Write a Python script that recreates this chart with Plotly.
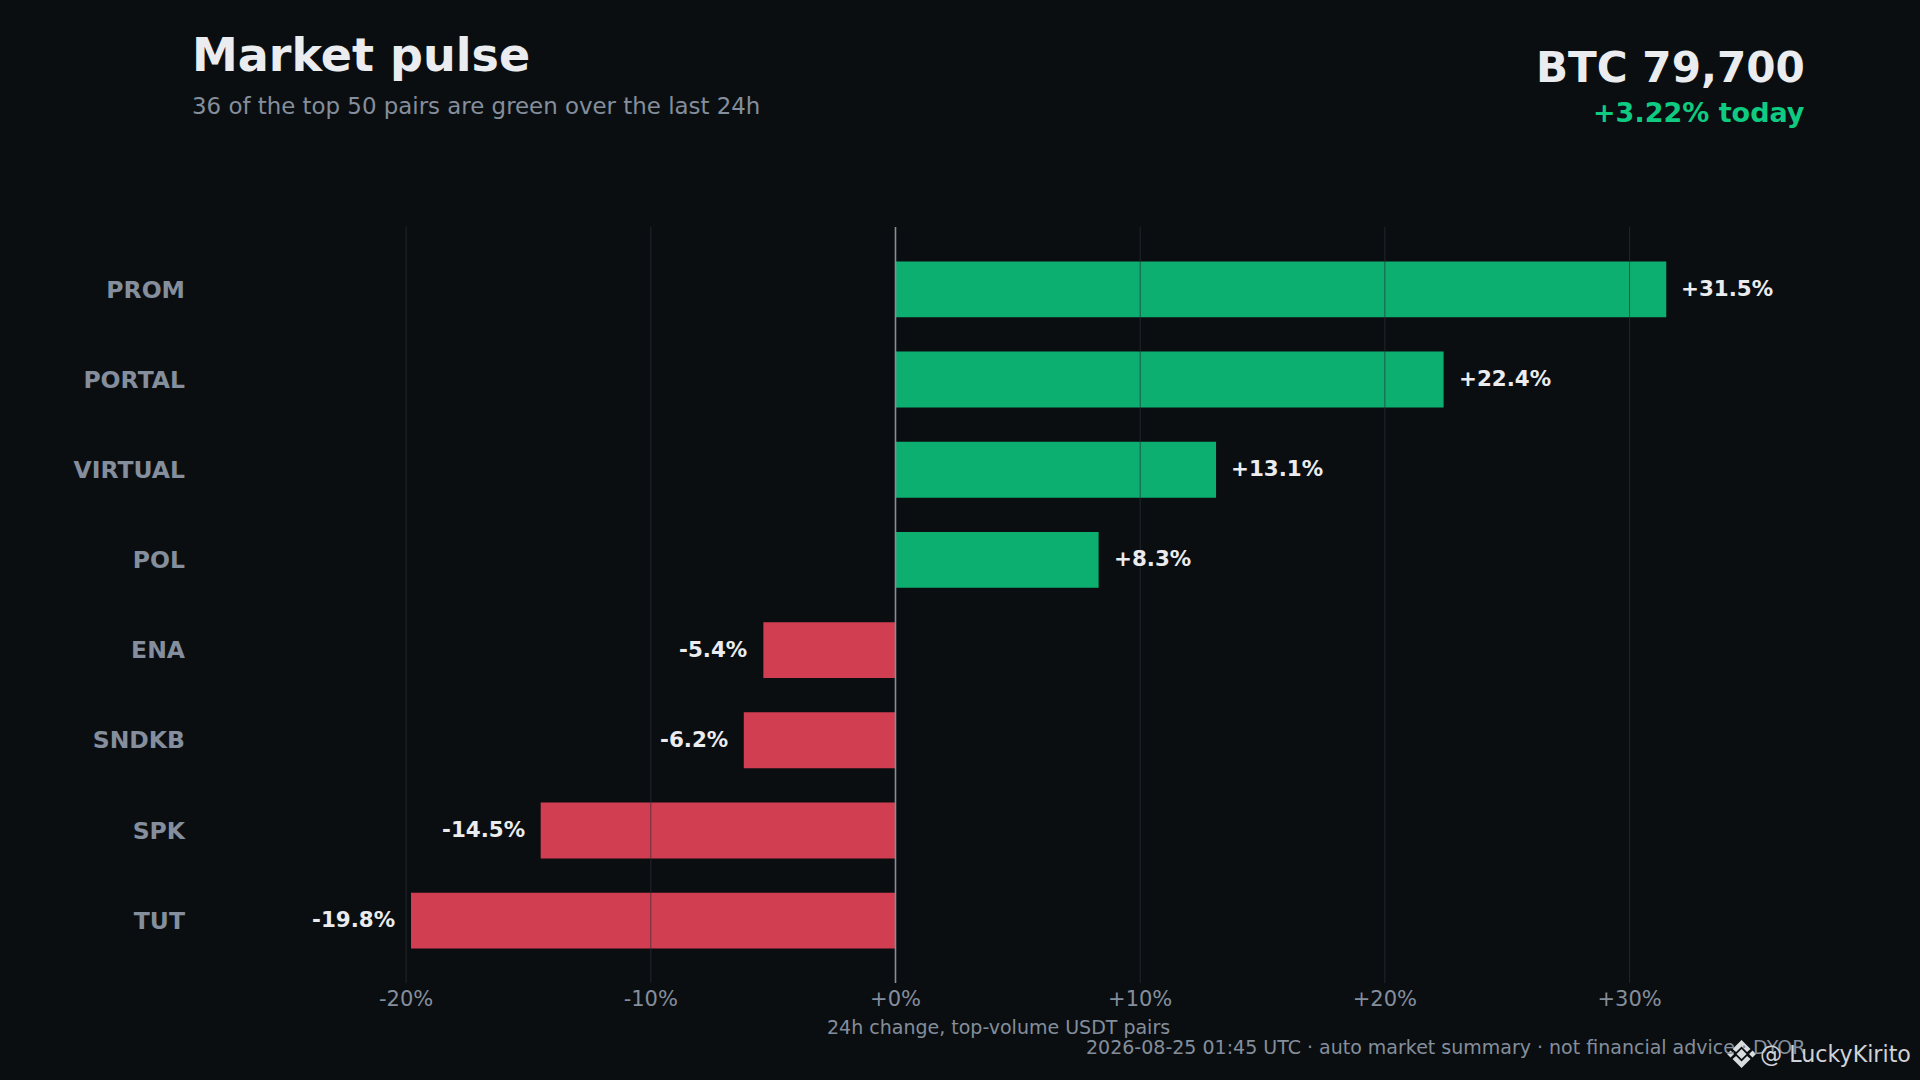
"""Market pulse: 24h change of top-volume USDT pairs."""

import plotly.graph_objects as go

BG = "#0b0e11"
GREEN = "rgba(14, 203, 129, 0.85)"
RED = "rgba(246, 70, 93, 0.85)"
GRID = "rgba(43, 49, 57, 0.7)"
ZERO = "#848e9c"
MUTED = "#848e9c"
LIGHT = "#eaecef"
ACCENT = "#0ecb81"
LOGO = "#d9dcdf"
FONT = "DejaVu Sans"

W, H = 1920, 1080
LEFT, RIGHT, TOP, BOTTOM = 192.5, 1805.5, 226.5, 983

symbols = ["PROM", "PORTAL", "VIRTUAL", "POL", "ENA", "SNDKB", "SPK", "TUT"]
changes = [31.5, 22.4, 13.1, 8.3, -5.4, -6.2, -14.5, -19.8]
x_ticks = [-20, -10, 0, 10, 20, 30]
x_labels = ["-20%", "-10%", "+0%", "+10%", "+20%", "+30%"]


def page_x(px):
    return (px - LEFT) / (RIGHT - LEFT)


def page_y(py):
    return (BOTTOM - py) / (BOTTOM - TOP)


def page_text(px, py, text, size, color, anchor="left", bold=False):
    if bold:
        text = f"<b>{text}</b>"
    fig.add_annotation(
        x=page_x(px), y=page_y(py), xref="paper", yref="paper",
        text=text, showarrow=False, xanchor=anchor, yanchor="middle",
        font={"family": FONT, "size": size, "color": color},
    )


fig = go.Figure()

fig.add_trace(
    go.Bar(
        x=changes,
        y=symbols,
        orientation="h",
        width=0.62,
        marker={"color": [GREEN if v >= 0 else RED for v in changes], "line": {"width": 0}},
    )
)

# value labels sit a fixed gap off the bar end, further than textposition allows
for name, value in zip(symbols, changes):
    fig.add_annotation(
        x=value, y=name, text=f"<b>{value:+.1f}%</b>", showarrow=False,
        xanchor="left" if value >= 0 else "right",
        xshift=13 if value >= 0 else -14, yshift=1,
        font={"family": FONT, "size": 21.4, "color": LIGHT},
    )

# grid sits on top of the bars in the original, so shapes rather than axis grid
for tick in x_ticks:
    fig.add_shape(
        type="line", x0=tick, x1=tick, y0=0, y1=1, xref="x", yref="paper",
        line={"color": ZERO if tick == 0 else GRID, "width": 1.6 if tick == 0 else 1},
        layer="above",
    )

page_text(189, 54, "Market pulse", 46, LIGHT, bold=True)
page_text(189, 105, "36 of the top 50 pairs are green over the last 24h", 22.9, MUTED)
page_text(1808, 66.5, "BTC 79,700", 42.1, LIGHT, anchor="right", bold=True)
page_text(1808, 112, "+3.22% today", 27, ACCENT, anchor="right", bold=True)
page_text(998, 1027, "24h change, top-volume USDT pairs", 19, MUTED, anchor="center")
page_text(1808, 1047, "2026-08-25 01:45 UTC · auto market summary · not financial advice · DYOR", 19, MUTED, anchor="right")
page_text(1758, 1054, "@ LuckyKirito", 22.2, "#cfd2d6")

# exchange-style diamond badge next to the handle
for cx, cy, r in [(1742, 1054, 5), (1731, 1054, 3.5), (1753, 1054, 3.5)]:
    fig.add_shape(
        type="path", xref="paper", yref="paper", fillcolor=LOGO, line={"width": 0},
        path=(
            f"M {page_x(cx)} {page_y(cy - r)} L {page_x(cx + r)} {page_y(cy)} "
            f"L {page_x(cx)} {page_y(cy + r)} L {page_x(cx - r)} {page_y(cy)} Z"
        ),
    )
for points in [
    [(1742, 1040), (1751, 1049), (1747.5, 1052), (1742, 1046.5), (1736.5, 1052), (1733, 1049)],
    [(1742, 1068), (1751, 1059), (1747.5, 1056), (1742, 1061.5), (1736.5, 1056), (1733, 1059)],
]:
    fig.add_shape(
        type="path", xref="paper", yref="paper", fillcolor=LOGO, line={"width": 0},
        path="M " + " L ".join(f"{page_x(a)} {page_y(b)}" for a, b in points) + " Z",
    )

fig.update_layout(
    width=W,
    height=H,
    margin={"l": LEFT, "r": W - RIGHT, "t": TOP, "b": H - BOTTOM, "pad": 0},
    paper_bgcolor=BG,
    plot_bgcolor=BG,
    showlegend=False,
    font={"family": FONT},
    xaxis={
        "range": [-28.71, 37.17],
        "tickvals": x_ticks,
        "ticktext": x_labels,
        "showgrid": False,
        "zeroline": False,
        "showline": False,
        "ticks": "",
        "ticklabelstandoff": 1,
        "tickfont": {"family": FONT, "size": 21, "color": MUTED},
    },
    yaxis={
        "type": "category",
        "categoryorder": "array",
        "categoryarray": symbols,
        "range": [7.692, -0.692],
        "showgrid": False,
        "zeroline": False,
        "showline": False,
        "ticks": "",
        "ticklabelstandoff": 7,
        "tickfont": {"family": FONT, "size": 23.5, "color": MUTED, "weight": "bold"},
    },
)

fig.write_html(
    "out.html",
    config={"displayModeBar": False},
    post_script="document.body.style.margin = '0'; document.body.style.background = '#0b0e11';",
)
